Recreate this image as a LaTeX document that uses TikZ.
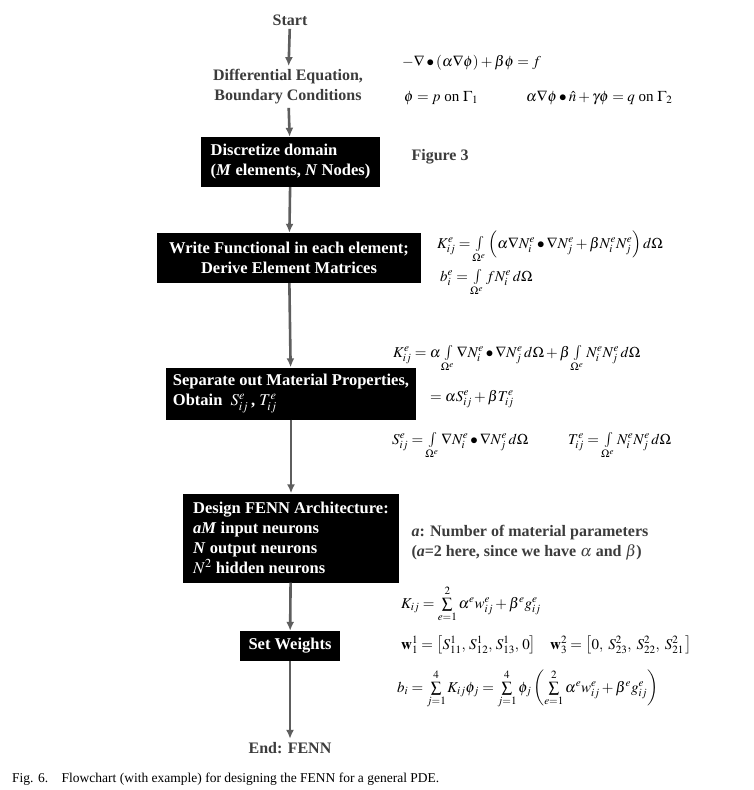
\documentclass[tikz,border=0pt]{standalone}
\usepackage{mathptmx}
\usepackage{fontspec}
\setmainfont{Liberation Serif}
\usetikzlibrary{arrows.meta}

\definecolor{labelgrey}{HTML}{3C3C3C}
\definecolor{arrowgrey}{HTML}{5E5E5E}

\tikzset{
  blackbox/.style={fill=black, text=white, inner sep=0pt,
    font=\bfseries\fontsize{16.5}{20}\selectfont},
  plainlabel/.style={text=labelgrey, align=center,
    font=\bfseries\fontsize{16}{20}\selectfont},
  flowarrow/.style={draw=arrowgrey, line width=2.6pt,
    -{Latex[length=9pt,width=8pt]}},
  formula/.style={anchor=base west, inner sep=0pt,
    font=\fontsize{15}{18}\selectfont}
}

\begin{document}
\begin{tikzpicture}[x=1pt,y=-1pt]
  \useasboundingbox[fill=white] (0,0) rectangle (754,790);

  % flowchart column
  \node[plainlabel] (start) at (290,20) {Start};
  \node[plainlabel] (diffeq) at (288,87) {Differential Equation,\\Boundary Conditions};
  \node[blackbox, minimum width=179pt, minimum height=50pt, align=left]
    (discr) at (290.5,162) {Discretize domain\\(\textit{M} elements, \textit{N} Nodes)};
  \node[blackbox, minimum width=264pt, minimum height=50pt, align=center]
    (funct) at (289,258) {Write Functional in each element;\\Derive Element Matrices};
  \node[blackbox, minimum width=250pt, minimum height=52pt, align=left]
    (separ) at (291,393.5) {Separate out Material Properties,\\Obtain \ $S^e_{ij}$\,, $T^e_{ij}$};
  \node[blackbox, minimum width=216pt, minimum height=89pt, align=left]
    (design) at (291,538) {Design FENN Architecture:\\\textit{aM} input neurons\\\textit{N} output neurons\\$N^2$ hidden neurons};
  \node[blackbox, minimum width=100pt, minimum height=30pt]
    (weights) at (290,646) {Set Weights};
  \node[plainlabel] (fenn) at (290,748) {End: FENN};

  \draw[flowarrow] (start) -- (diffeq);
  \draw[flowarrow] (diffeq) -- (discr);
  \draw[flowarrow] (discr) -- (funct);
  \draw[flowarrow] (funct) -- (separ);
  \draw[flowarrow] (separ) -- (design);
  \draw[flowarrow] (design) -- (weights);
  \draw[flowarrow] (weights) -- (fenn);

  % side notes
  \node[formula] (pde) at (402,66) {$-\nabla\bullet\left(\alpha\nabla\phi\right)+\beta\phi=f$};
  \node[formula] (bcone) at (404,101) {$\phi=p$ on $\Gamma_1$};
  \node[formula] (bctwo) at (526,101) {$\alpha\nabla\phi\bullet\hat{n}+\gamma\phi=q$ on $\Gamma_2$};
  \node[plainlabel, anchor=west] (figref) at (408,157) {Figure 3};

  \node[formula] (kelem) at (437,248)
    {$K^e_{ij}=\textstyle\int\limits_{\Omega^e}\left(\alpha\nabla N^e_i\bullet\nabla N^e_j+\beta N^e_iN^e_j\right)d\Omega$};
  \node[formula] (belem) at (440,281)
    {$b^e_i=\textstyle\int\limits_{\Omega^e}fN^e_i\,d\Omega$};

  \node[formula] (ksplit) at (393,357)
    {$K^e_{ij}=\alpha\textstyle\int\limits_{\Omega^e}\nabla N^e_i\bullet\nabla N^e_j\,d\Omega+\beta\textstyle\int\limits_{\Omega^e}N^e_iN^e_j\,d\Omega$};
  \node[formula] (kst) at (430,401) {$=\alpha S^e_{ij}+\beta T^e_{ij}$};
  \node[formula] (sdef) at (392,444)
    {$S^e_{ij}=\textstyle\int\limits_{\Omega^e}\nabla N^e_i\bullet\nabla N^e_j\,d\Omega$};
  \node[formula] (tdef) at (568,444)
    {$T^e_{ij}=\textstyle\int\limits_{\Omega^e}N^e_iN^e_j\,d\Omega$};

  \node[plainlabel, align=left, anchor=west] (matnote) at (408,543)
    {\textit{a}: Number of material parameters\\(\textit{a}=2 here, since we have $\alpha$ and $\beta$)};

  \node[formula] (kglob) at (401,608)
    {$K_{ij}=\sum\limits_{e=1}^{2}\alpha^ew^e_{ij}+\beta^eg^e_{ij}$};
  \node[formula] (wone) at (401,649)
    {$\mathbf{w}^1_1=\left[S^1_{11},\,S^1_{12},\,S^1_{13},\,0\right]$};
  \node[formula] (wthree) at (550,649)
    {$\mathbf{w}^2_3=\left[0,\;S^2_{23},\;S^2_{22},\;S^2_{21}\,\right]$};
  \node[formula] (bglob) at (397,692)
    {$b_i=\sum\limits_{j=1}^{4}K_{ij}\phi_j=\sum\limits_{j=1}^{4}\phi_j\left(\sum\limits_{e=1}^{2}\alpha^ew^e_{ij}+\beta^eg^e_{ij}\right)$};

  % caption
  \node[anchor=base west, inner sep=0pt, font=\fontsize{13.5}{16}\selectfont]
    (caption) at (12,782) {Fig. 6.\quad Flowchart (with example) for designing the FENN for a general PDE.};
\end{tikzpicture}
\end{document}
